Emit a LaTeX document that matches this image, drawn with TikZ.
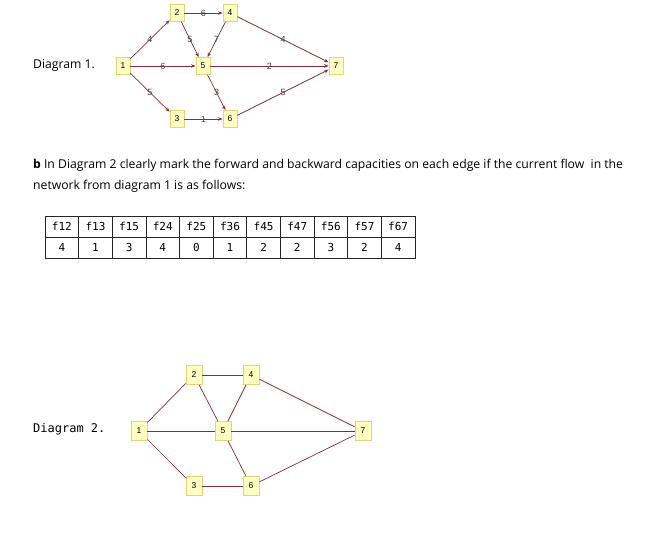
\documentclass[tikz,border=0pt]{standalone}
\usepackage{fontspec}
\setmainfont{Open Sans}
\newfontfamily\monofont{DejaVu Sans Mono}
\newfontfamily\nodefont{Liberation Sans}
\usetikzlibrary{arrows.meta}
\definecolor{edgec}{HTML}{8A2A38}
\definecolor{nodefill}{HTML}{FFFFC2}
\definecolor{nodeborder}{HTML}{E3D67A}
\begin{document}
\begin{tikzpicture}[x=1pt,y=-1pt,
 vbox/.style={draw=nodeborder, fill=nodefill, minimum width=14pt, minimum height=17pt, inner sep=0pt, font=\nodefont\fontsize{8.5}{8.5}\selectfont, line width=0.8pt},
 vboxb/.style={vbox, minimum width=16pt, minimum height=19pt},
 arc/.style={draw=edgec, line width=0.7pt, -{Stealth[length=4.5pt,width=3.5pt]}},
 link/.style={draw=edgec, line width=0.7pt},
 elab/.style={font=\nodefont\fontsize{9}{9}\selectfont, text=black!75, inner sep=0pt},
 txt/.style={font=\fontsize{12.2}{14}\selectfont, inner sep=0pt, anchor=base west},
 cell/.style={font=\monofont\fontsize{11}{11}\selectfont, inner sep=0pt, anchor=base},
 grid/.style={draw=black!85, line width=0.7pt}]
\useasboundingbox (0,0) rectangle (667,554);

% Diagram 1
\node[txt] (d1) at (33,68) {Diagram 1.};
\node[vbox] (a1) at (123,66) {1};
\node[vbox] (a2) at (177,13) {2};
\node[vbox] (a4) at (230,13) {4};
\node[vbox] (a5) at (203,66) {5};
\node[vbox] (a7) at (336,66) {7};
\node[vbox] (a3) at (177,119) {3};
\node[vbox] (a6) at (230,119) {6};
\draw[arc] (a1) -- node[elab]{4} (a2);
\draw[arc] (a2) -- node[elab]{6} (a4);
\draw[arc] (a2) -- node[elab]{5} (a5);
\draw[arc] (a4) -- node[elab]{7} (a5);
\draw[arc] (a4) -- node[elab]{4} (a7);
\draw[arc] (a1) -- node[elab]{6} (a5);
\draw[arc] (a5) -- node[elab]{2} (a7);
\draw[arc] (a1) -- node[elab]{5} (a3);
\draw[arc] (a5) -- node[elab]{3} (a6);
\draw[arc] (a3) -- node[elab]{1} (a6);
\draw[arc] (a6) -- node[elab]{5} (a7);

% Question text
\node[txt] (q1) at (33,168) {\textbf{b} In Diagram 2 clearly mark the forward and backward capacities on each edge if the current flow\ \ in the};
\node[txt] (q2) at (33,189) {network from diagram 1 is as follows:};

% Table
\draw[grid] (45,216) rectangle (415,258);
\draw[grid] (45,237) -- (415,237);
\foreach \i in {1,...,10} \draw[grid] (45+\i*33.636,216) -- (45+\i*33.636,258);
\foreach \h/\v [count=\i from 0] in {f12/4,f13/1,f15/3,f24/4,f25/0,f36/1,f45/2,f47/2,f56/3,f57/2,f67/4} {
  \node[cell] (h\i) at (45+\i*33.636+16.818,230.5) {\h};
  \node[cell] (v\i) at (45+\i*33.636+16.818,251.5) {\v};
}

% Diagram 2
\node[txt, font=\monofont\fontsize{12}{12}\selectfont] (d2) at (33,432) {Diagram 2.};
\node[vboxb] (b1) at (139,431) {1};
\node[vboxb] (b2) at (194,375) {2};
\node[vboxb] (b4) at (251,375) {4};
\node[vboxb] (b5) at (223,431) {5};
\node[vboxb] (b7) at (363,431) {7};
\node[vboxb] (b3) at (194,486) {3};
\node[vboxb] (b6) at (251,486) {6};
\draw[link] (b1) -- (b2);
\draw[link] (b2) -- (b4);
\draw[link] (b2) -- (b5);
\draw[link] (b4) -- (b5);
\draw[link] (b4) -- (b7);
\draw[link] (b1) -- (b5);
\draw[link] (b5) -- (b7);
\draw[link] (b1) -- (b3);
\draw[link] (b5) -- (b6);
\draw[link] (b3) -- (b6);
\draw[link] (b6) -- (b7);
\end{tikzpicture}
\end{document}
